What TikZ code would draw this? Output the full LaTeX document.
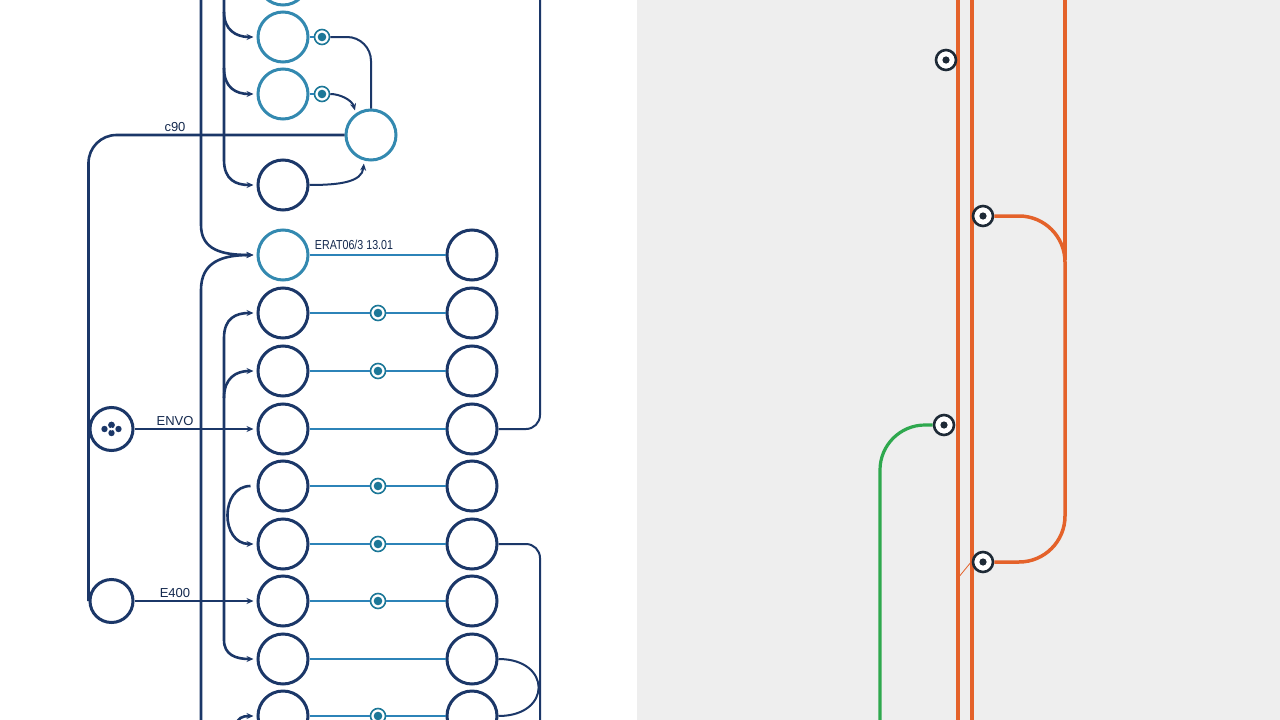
\documentclass[tikz,border=0pt]{standalone}
\usepackage{fontspec}
\setmainfont{Liberation Sans}
\usetikzlibrary{arrows.meta}
\definecolor{navy}{HTML}{1B3768}
\definecolor{tealc}{HTML}{3389B0}
\definecolor{tealline}{HTML}{2C83B8}
\definecolor{tealdot}{HTML}{1D7898}
\definecolor{orangel}{HTML}{E4622A}
\definecolor{greenl}{HTML}{2EA84E}
\definecolor{dotdark}{HTML}{1E2A36}
\definecolor{bggray}{HTML}{EEEEEE}
\begin{document}
\begin{tikzpicture}[x=1pt,y=-1pt,
 nc/.style={circle,draw=navy,line width=3pt,minimum size=50pt,inner sep=0pt},
 tc/.style={circle,draw=tealc,line width=3pt,minimum size=50pt,inner sep=0pt},
 sc/.style={circle,draw=navy,line width=3pt,minimum size=43pt,inner sep=0pt},
 tdot/.style={circle,draw=tealdot,line width=1.6pt,fill=white,minimum size=15pt,inner sep=0pt,
   path picture={\fill[tealdot] (path picture bounding box.center) circle (4.3pt);}},
 odot/.style={circle,draw=dotdark,line width=2.6pt,fill=white,minimum size=20pt,inner sep=0pt,
   path picture={\fill[dotdark] (path picture bounding box.center) circle (3.6pt);}},
 nl/.style={draw=navy,line width=2.6pt},
 thin/.style={draw=navy,line width=2pt},
 tl/.style={draw=tealline,line width=2.3pt},
 arr/.style={-{Stealth[length=7pt,width=6pt]},shorten >=3pt},
 arrboth/.style={{Stealth[length=7pt,width=6pt]}-{Stealth[length=7pt,width=6pt]},shorten >=3pt,shorten <=3pt},
 lab/.style={font=\fontsize{13}{14}\selectfont,text=navy!75!black,inner sep=0pt},
 ol/.style={draw=orangel,line width=3.5pt},
 gl/.style={draw=greenl,line width=3.2pt},
]
\useasboundingbox (0,0) rectangle (1280,720);
\fill[white] (0,0) rectangle (637,720);
\fill[bggray] (637,0) rectangle (1280,720);
\clip (0,0) rectangle (1280,720);

% ---------- left diagram: nodes ----------
\node[tc] (a0) at (283,-20) {};
\node[tc] (a1) at (283,37) {};
\node[tc] (a2) at (283,94) {};
\node[nc] (a3) at (283,185) {};
\node[tc] (hub) at (371,135) {};
\node[tdot] (d1) at (322,37) {};
\node[tdot] (d2) at (322,94) {};

\node[tc] (l1) at (283,255) {};
\foreach \i/\y in {2/313,3/371,4/429,5/486,6/544,7/601,8/659,9/716}
  \node[nc] (l\i) at (283,\y) {};
\foreach \i/\y in {1/255,2/313,3/371,4/429,5/486,6/544,7/601,8/659,9/716}
  \node[nc] (r\i) at (472,\y) {};
\foreach \i/\y in {2/313,3/371,5/486,6/544,7/601,9/716}
  \node[tdot] (m\i) at (378,\y) {};

\node[sc] (c1) at (111.5,429) {};
\node[sc] (c2) at (111.5,601) {};
\fill[navy] (104.5,429) circle (3.2) (111.5,425) circle (3.4) (118.5,429) circle (3.2) (111.5,433) circle (3.2);
\fill[white] (111.5,429) circle (1.6);

\node[lab] (t90) at (175,127) {c90};
\node[lab] (tenvo) at (175,421) {ENVO};
\node[lab] (te400) at (175,593) {E400};
\node[lab,xscale=0.82] (trow) at (354,245) {ERAT06/3 13.01};

% row connectors
\foreach \i in {2,3,5,6,7,9} \draw[tl] (l\i) -- (m\i) -- (r\i);
\foreach \i in {1,4,8} \draw[tl] (l\i) -- (r\i);
\draw[tl] (a1) -- (d1);
\draw[tl] (a2) -- (d2);

% trunks
\draw[nl,arr] (201,-5) -- (201,225) .. controls (201,250) and (222,255) .. (l1.west);
\draw[nl,arr] (201,725) -- (201,290) .. controls (201,262) and (222,255) .. (l1.west);
\draw[nl,arr] (224,-5) -- (224,160) .. controls (224,180) and (236,185) .. (a3.west);
\draw[nl,arr] (224,12) .. controls (224,30) and (236,37) .. (a1.west);
\draw[nl,arr] (224,68) .. controls (224,88) and (236,94) .. (a2.west);
\draw[nl,arrboth] (l2.west) .. controls (236,313) and (224,318) .. (224,338) -- (224,640) .. controls (224,655) and (236,659) .. (l8.west);
\draw[nl,arr] (224,398) .. controls (224,378) and (236,371) .. (l3.west);
\draw[nl,arr,shorten <=6pt] (l5.west) .. controls (220,486) and (220,544) .. (l6.west);
\draw[nl,arr] (236,725) .. controls (238,718) and (242,716) .. (l9.west);

% left inputs
\draw[nl,arr] (c1) -- (l4);
\draw[nl,arr] (c2) -- (l7);
\draw[nl,rounded corners=28pt] (c2.west) -- (88.5,135) -- (hub.west);

% hub connections
\draw[thin,rounded corners=24pt] (d1.east) -| (hub.north);
\draw[thin,arr] (d2.east) .. controls (340,94) and (352,100) .. (hub.125);
\draw[thin,arr] (a3.east) .. controls (340,185) and (362,182) .. (hub.-105);

% right side of column B
\draw[thin,rounded corners=14pt] (540,-5) -- (540,429) -- (r4.east);
\draw[thin,rounded corners=14pt] (r6.east) -- (540,544) -- (540,725);
\draw[thin] (r8.east) .. controls (552,659) and (552,716) .. (r9.east);

% ---------- right panel ----------
\draw[ol] (958,-5) -- (958,725);
\draw[ol] (972,-5) -- (972,725);
\draw[ol] (1065,-5) -- (1065,260);
\draw[draw=orangel,line width=0.8pt] (958,578) -- (976,556);

\node[odot] (o1) at (946,60) {};
\node[odot] (o2) at (983,216) {};
\node[odot] (o3) at (944,425) {};
\node[odot] (o4) at (983,562) {};

\draw[ol,rounded corners=46pt] (o2.east) -- (1065,216) -- (1065,562) -- (o4.east);
\draw[gl,rounded corners=45pt] (o3.west) -- (880,425) -- (880,765) -- (940,765);
\end{tikzpicture}
\end{document}
